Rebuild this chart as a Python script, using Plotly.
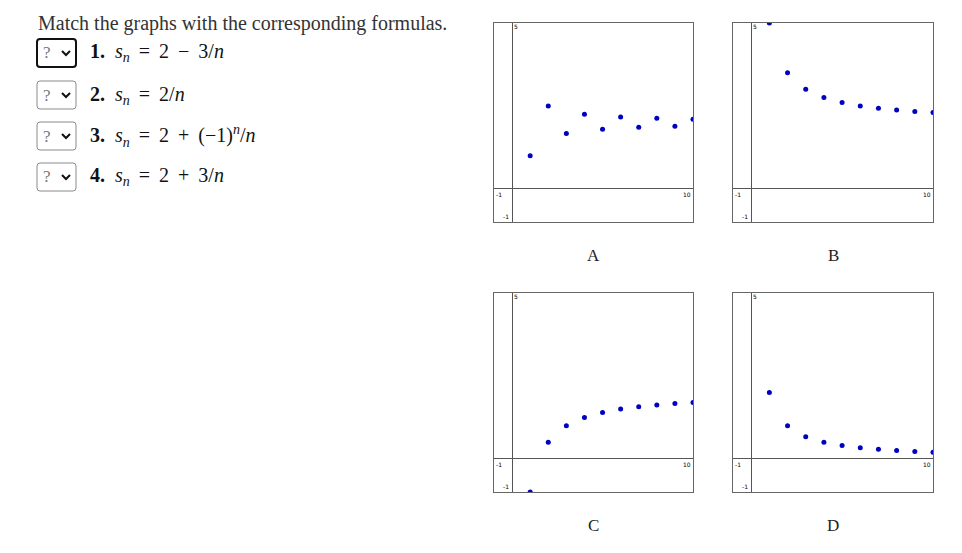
import plotly.graph_objects as go

W, H = 962, 553
OFF = 8  # default page body margin
FW, FH = W - OFF, H - OFF

# ---- data ----
n_values = [1, 2, 3, 4, 5, 6, 7, 8, 9, 10]
series_A = [1.0, 2.5, 1.667, 2.25, 1.8, 2.167, 1.857, 2.125, 1.889, 2.1]
series_B = [5.0, 3.5, 3.0, 2.75, 2.6, 2.5, 2.429, 2.375, 2.333, 2.3]
series_C = [-1.0, 0.5, 1.0, 1.25, 1.4, 1.5, 1.571, 1.625, 1.667, 1.7]
series_D = [2.0, 1.0, 0.667, 0.5, 0.4, 0.333, 0.286, 0.25, 0.222, 0.2]
panel_letters = ["A", "B", "C", "D"]
title_text = "Match the graphs with the corresponding formulas."
SP = " \u2009"
formula_texts = [
    f"<b>1.</b>  <i>s</i><sub><i>n</i></sub>{SP}={SP}2{SP}−{SP}3/<i>n</i>",
    f"<b>2.</b>  <i>s</i><sub><i>n</i></sub>{SP}={SP}2/<i>n</i>",
    f"<b>3.</b>  <i>s</i><sub><i>n</i></sub>{SP}={SP}2{SP}+{SP}(−1)<sup><i>n</i></sup>/<i>n</i>",
    f"<b>4.</b>  <i>s</i><sub><i>n</i></sub>{SP}={SP}2{SP}+{SP}3/<i>n</i>",
]
x_range = [-1, 10]
y_range = [-1, 5]


def px(x):
    return (x - OFF) / FW


def py(y):
    return 1 - (y - OFF) / FH


# panel pixel boxes (left, top, right, bottom) in window pixels
boxes = [(494, 23, 693, 222), (733, 23, 933, 222), (494, 293, 693, 492), (733, 293, 933, 492)]
all_series = [series_A, series_B, series_C, series_D]

fig = go.Figure()
annotations = []
shapes = []
layout_axes = {}

for i, (box, ys, letter) in enumerate(zip(boxes, all_series, panel_letters)):
    k = "" if i == 0 else str(i + 1)
    xa, ya = "x" + k, "y" + k
    l, t, r, b = box
    layout_axes["xaxis" + k] = dict(
        domain=[px(l), px(r)], range=x_range, showgrid=False, showticklabels=False,
        ticks="", zeroline=True, zerolinecolor="#555555", zerolinewidth=1,
        showline=True, mirror=True, linecolor="#666666", linewidth=1,
        anchor=ya, fixedrange=True,
    )
    layout_axes["yaxis" + k] = dict(
        domain=[py(b), py(t)], range=y_range, showgrid=False, showticklabels=False,
        ticks="", zeroline=True, zerolinecolor="#555555", zerolinewidth=1,
        showline=True, mirror=True, linecolor="#666666", linewidth=1,
        anchor=xa, fixedrange=True,
    )
    fig.add_trace(go.Scatter(
        x=n_values, y=ys, mode="markers", xaxis=xa, yaxis=ya,
        marker=dict(color="#0000c0", size=5), showlegend=False, hoverinfo="skip",
        cliponaxis=True,
    ))
    small = dict(family="DejaVu Sans", size=6, color="#000000")
    annotations += [
        dict(x=0, y=5, xref=xa, yref=ya, text="5", showarrow=False, xanchor="left", yanchor="top",
             font=small, yshift=2),
        dict(x=-1, y=0, xref=xa, yref=ya, text="-1", showarrow=False, xanchor="left", yanchor="top",
             font=small),
        dict(x=10, y=0, xref=xa, yref=ya, text="10", showarrow=False, xanchor="right", yanchor="top",
             font=small),
        dict(x=0, y=-1, xref=xa, yref=ya, text="-1", showarrow=False, xanchor="right", yanchor="bottom",
             font=small, xshift=-1),
    ]
    annotations.append(dict(
        x=px((l + r) / 2), y=py(b + 33), xref="paper", yref="paper", text=letter,
        showarrow=False, xanchor="center", yanchor="middle",
        font=dict(family="Liberation Serif", size=17, color="#222222"),
    ))

# title text
annotations.append(dict(
    x=px(36), y=py(23), xref="paper", yref="paper", text=title_text, showarrow=False,
    xanchor="left", yanchor="middle", font=dict(family="Liberation Serif", size=20, color="#333333"),
))

# dropdowns + formulas
drop_tops = [39, 81, 122, 163]
for j, (top, ftxt) in enumerate(zip(drop_tops, formula_texts)):
    bot = top + 28
    lft, rgt = 37, 76
    rr = 3
    x0, x1 = px(lft), px(rgt)
    y0, y1 = py(top), py(bot)
    rx, ry = rr / FW, rr / FH
    path = (f"M {x0+rx},{y0} L {x1-rx},{y0} Q {x1},{y0} {x1},{y0-ry} "
            f"L {x1},{y1+ry} Q {x1},{y1} {x1-rx},{y1} L {x0+rx},{y1} Q {x0},{y1} {x0},{y1+ry} "
            f"L {x0},{y0-ry} Q {x0},{y0} {x0+rx},{y0} Z")
    shapes.append(dict(
        type="path", path=path, xref="paper", yref="paper",
        line=dict(color="#111111" if j == 0 else "#8a8a8a", width=2 if j == 0 else 1),
        fillcolor="white",
    ))
    cy = (top + bot) / 2
    annotations.append(dict(
        x=px(41), y=py(cy), xref="paper", yref="paper", text="?", showarrow=False,
        xanchor="left", yanchor="middle", font=dict(family="Liberation Serif", size=17, color="#777777"),
    ))
    shapes.append(dict(
        type="path", xref="paper", yref="paper",
        path=f"M {px(62)},{py(cy-2)} L {px(66)},{py(cy+2)} L {px(70)},{py(cy-2)}",
        line=dict(color="#111111", width=2),
    ))
    annotations.append(dict(
        x=px(88), y=py(cy), xref="paper", yref="paper", text=ftxt, showarrow=False,
        xanchor="left", yanchor="middle", font=dict(family="Liberation Serif", size=20, color="#111111"),
    ))

fig.update_layout(
    width=FW, height=FH, margin=dict(l=0, r=0, t=0, b=0),
    paper_bgcolor="white", plot_bgcolor="white",
    annotations=annotations, shapes=shapes, showlegend=False,
    **layout_axes,
)

fig.write_html("out.html", config={"displayModeBar": False})
